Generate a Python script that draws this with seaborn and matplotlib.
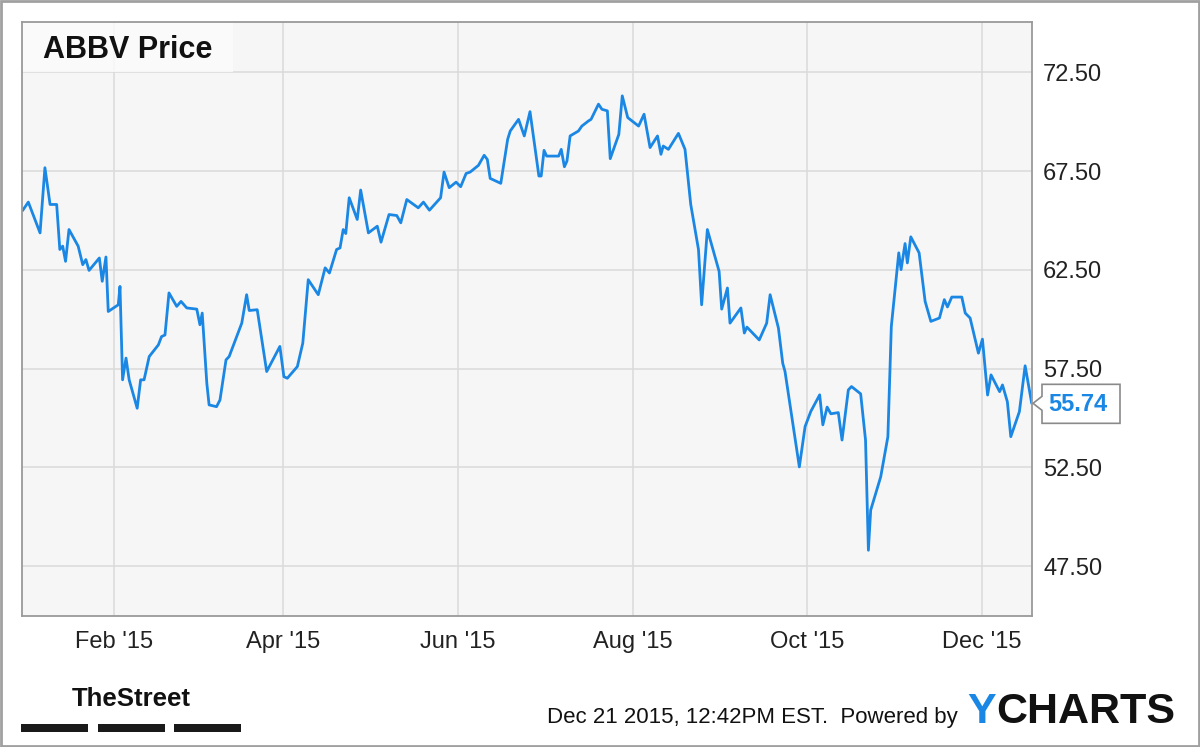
import numpy as np
import pandas as pd
import matplotlib
matplotlib.use("Agg")
import matplotlib.pyplot as plt
import matplotlib.dates as mdates
import matplotlib.transforms as mtransforms
from matplotlib.patches import Rectangle, Polygon
from matplotlib.ticker import FixedLocator, FormatStrFormatter
from matplotlib import font_manager
import seaborn as sns

# ---------------- data ----------------
title = "ABBV Price"
last_price = 55.74
# offsets in days from 2015-01-01 (fractional = position between trading days)
days_since_jan1 = [
    -0.9, 1.1, 5.2, 6.9, 8.7, 11.0, 12.1, 13.1, 14.1, 15.3, 18.5, 20.1, 21.2, 22.3,
    25.9, 26.9, 27.6, 28.2, 29.0, 32.5, 33.1, 34.0, 35.2, 36.3, 39.1, 40.3, 41.5,
    43.3, 46.5, 47.6, 48.8, 50.2, 52.9, 54.4, 56.4, 59.9, 61.0, 61.8, 63.4, 64.2,
    66.8, 68.0, 70.1, 71.2, 75.6, 77.3, 78.2, 81.0, 84.3, 88.9, 90.3, 91.5, 95.0,
    96.9, 98.8, 102.3, 104.7, 106.2, 108.7, 109.9, 111.0, 111.9, 113.1, 115.9,
    117.1, 119.8, 122.9, 124.2, 127.0, 129.7, 131.1, 133.2, 137.2, 139.0, 141.1,
    145.0, 146.2, 148.0, 150.4, 152.0, 153.9, 155.3, 158.2, 160.2, 161.3, 162.3,
    166.0, 168.4, 169.3, 172.2, 174.2, 176.2, 179.3, 180.1, 181.1, 182.0, 186.2,
    187.1, 188.2, 189.1, 190.2, 193.1, 194.3, 196.6, 197.5, 200.1, 201.3, 203.2,
    204.2, 207.2, 208.4, 210.3, 214.1, 216.0, 218.1, 220.7, 221.9, 222.7, 224.5,
    228.0, 230.3, 232.3, 235.0, 236.1, 238.1, 242.2, 243.1, 245.1, 246.0, 249.8,
    251.0, 251.9, 256.2, 258.8, 260.0, 262.9, 264.4, 265.2, 270.2, 272.2, 274.2,
    277.3, 278.4, 279.9, 281.2, 283.8, 285.1, 287.3, 288.4, 291.6, 293.3, 294.3,
    295.1, 298.6, 301.1, 302.3, 304.9, 305.7, 307.1, 307.9, 309.1, 312.0, 314.1,
    316.1, 319.1, 320.8, 321.9, 323.4, 326.9, 328.1, 329.8, 332.7, 334.1, 335.9,
    337.1, 340.1, 341.1, 342.8, 344.0, 347.0, 349.0, 351.3,
]
prices = [
    65.50, 65.93, 64.37, 67.67, 65.81, 65.81, 63.53, 63.70, 62.93, 64.54, 63.70, 62.76, 63.02, 62.47,
    63.10, 61.92, 62.60, 63.15, 60.39, 60.73, 61.66, 56.93, 58.03, 56.93, 55.49, 56.93, 56.93,
    58.11, 58.70, 59.12, 59.20, 61.33, 60.65, 60.90, 60.57, 60.51, 59.72, 60.31, 56.76, 55.66,
    55.57, 55.91, 57.94, 58.11, 59.80, 61.24, 60.44, 60.48, 57.35, 58.62, 57.09, 57.01, 57.60,
    58.79, 62.00, 61.24, 62.60, 62.34, 63.53, 63.61, 64.54, 64.34, 66.15, 65.05,
    66.54, 64.37, 64.71, 63.90, 65.30, 65.25, 64.88, 66.06, 65.64, 65.93, 65.52,
    66.15, 67.45, 66.66, 66.94, 66.71, 67.38, 67.45, 67.79, 68.30, 68.09, 67.13,
    66.88, 69.11, 69.53, 70.12, 69.28, 70.51, 67.25, 67.25, 68.55, 68.26, 68.26,
    68.60, 67.72, 68.01, 69.28, 69.53, 69.78, 70.04, 70.12, 70.89, 70.63, 70.55,
    68.13, 69.36, 71.31, 70.21, 69.78, 70.38, 68.69, 69.28, 68.35, 68.77, 68.60,
    69.41, 68.60, 65.81, 63.53, 60.73, 64.54, 62.42, 60.51, 61.58, 59.80, 60.57,
    59.30, 59.60, 58.95, 59.80, 61.24, 59.55, 57.77, 57.35, 52.52, 54.56, 55.33,
    56.17, 54.65, 55.55, 55.21, 55.27, 53.88, 56.42, 56.59, 56.22, 53.88, 48.30,
    50.33, 52.02, 54.05, 59.63, 63.36, 62.51, 63.83, 62.85, 64.17, 63.36, 60.90,
    59.89, 60.06, 60.99, 60.62, 61.12, 61.12, 60.31, 60.06, 58.28, 58.99, 56.16,
    57.18, 56.33, 56.67, 55.82, 54.05, 55.32, 57.64, 55.74,
]
y_ticks = [47.5, 52.5, 57.5, 62.5, 67.5, 72.5]
x_tick_months = [2, 4, 6, 8, 10, 12]
credit_text = "Dec 21 2015, 12:42PM EST.  Powered by"

base = pd.Timestamp("2015-01-01")
df = pd.DataFrame({
    "date": base + pd.to_timedelta(days_since_jan1, unit="D"),
    "price": prices,
})

# ---------------- style ----------------
sns.set_style("white")
plt.rcParams["font.family"] = ["Liberation Sans", "DejaVu Sans"]

W, H = 1200, 747
fig = plt.figure(figsize=(W / 100, H / 100), dpi=100, facecolor="white")
ax = fig.add_axes([22 / W, (H - 616) / H, 1010 / W, 594 / H])
ax.set_facecolor("#f6f6f6")

line_color = "#1a87e4"
sns.lineplot(data=df, x="date", y="price", ax=ax, color=line_color,
             linewidth=2.0, legend=False)

ax.set_xlim(base + pd.Timedelta(days=-1.1), base + pd.Timedelta(days=351.4))
ax.set_ylim(44.97, 75.05)

ax.yaxis.tick_right()
ax.yaxis.set_major_locator(FixedLocator(y_ticks))
ax.yaxis.set_major_formatter(FormatStrFormatter("%.2f"))
ax.xaxis.set_major_locator(mdates.MonthLocator(bymonth=x_tick_months))
ax.xaxis.set_major_formatter(mdates.DateFormatter("%b '%y"))
ax.tick_params(axis="both", length=0, labelsize=17, labelcolor="#222222")
ax.tick_params(axis="x", pad=11)
ax.tick_params(axis="y", pad=8)
ax.set_xlabel("")
ax.set_ylabel("")
ax.grid(True, color="#dadada", linewidth=1.1)
ax.set_axisbelow(True)
for s in ax.spines.values():
    s.set_visible(True)
    s.set_color("#9a9a9a")
    s.set_linewidth(1.3)

# title box
ax.add_patch(Rectangle((0, (616 - 72) / 594), (233 - 22) / 1010, 1 - (616 - 72) / 594,
                       transform=ax.transAxes, facecolor="#fbfbfb", edgecolor="none",
                       alpha=0.85, zorder=1.5))
ax.text(21 / 1010, (616 - 50) / 594, title, transform=ax.transAxes, fontsize=22,
        fontweight="bold", color="#111111", va="center", ha="left", zorder=3)

# last-value callout
fig.canvas.draw()
tx, ty = ax.get_yaxis_transform().transform((1.0, last_price))
verts = [(tx + 1, ty), (tx + 10, ty + 7), (tx + 10, ty + 19), (tx + 88, ty + 19),
         (tx + 88, ty - 20), (tx + 10, ty - 20), (tx + 10, ty - 7)]
fig.patches.append(Polygon(verts, closed=True, facecolor="white", edgecolor="#8a8a8a",
                           linewidth=1.2, transform=mtransforms.IdentityTransform(),
                           figure=fig))
fig.text((tx + 46) / W, (ty - 1) / H, f"{last_price:.2f}", fontsize=17, fontweight="bold",
         color=line_color, ha="center", va="center")

# footer: TheStreet logo (condensed bold if available)
names = {f.name for f in font_manager.fontManager.ttflist}
if "Liberation Sans Narrow" in names:
    logo_family, logo_size = ["Liberation Sans Narrow", "Liberation Sans"], 23
else:
    logo_family, logo_size = ["Liberation Sans", "DejaVu Sans"], 18.5
fig.text(131 / W, 1 - 699 / H, "TheStreet", fontsize=logo_size, fontweight="bold",
         family=logo_family, color="#111111", ha="center", va="center")
for x0 in (21, 98, 174):
    fig.patches.append(Rectangle((x0 / W, 1 - 732 / H), 67 / W, 8 / H,
                                 transform=fig.transFigure, facecolor="#1a1a1a",
                                 edgecolor="none", figure=fig))

# footer: credit text
fig.text(958 / W, 1 - 718 / H, credit_text, fontsize=16, color="#111111",
         ha="right", va="center")
fig.text(967 / W, 1 - 712 / H, "Y", fontsize=31, fontweight="bold", color=line_color,
         ha="left", va="center")
fig.text(996 / W, 1 - 712 / H, "CHARTS", fontsize=31, fontweight="bold", color="#111111",
         ha="left", va="center")

# outer frame
fig.patches.append(Rectangle((0.001, 0.001), 0.998, 0.997, transform=fig.transFigure,
                             facecolor="none", edgecolor="#a0a0a0", linewidth=2,
                             figure=fig))

fig.savefig("out.png", dpi=100, facecolor="white")
